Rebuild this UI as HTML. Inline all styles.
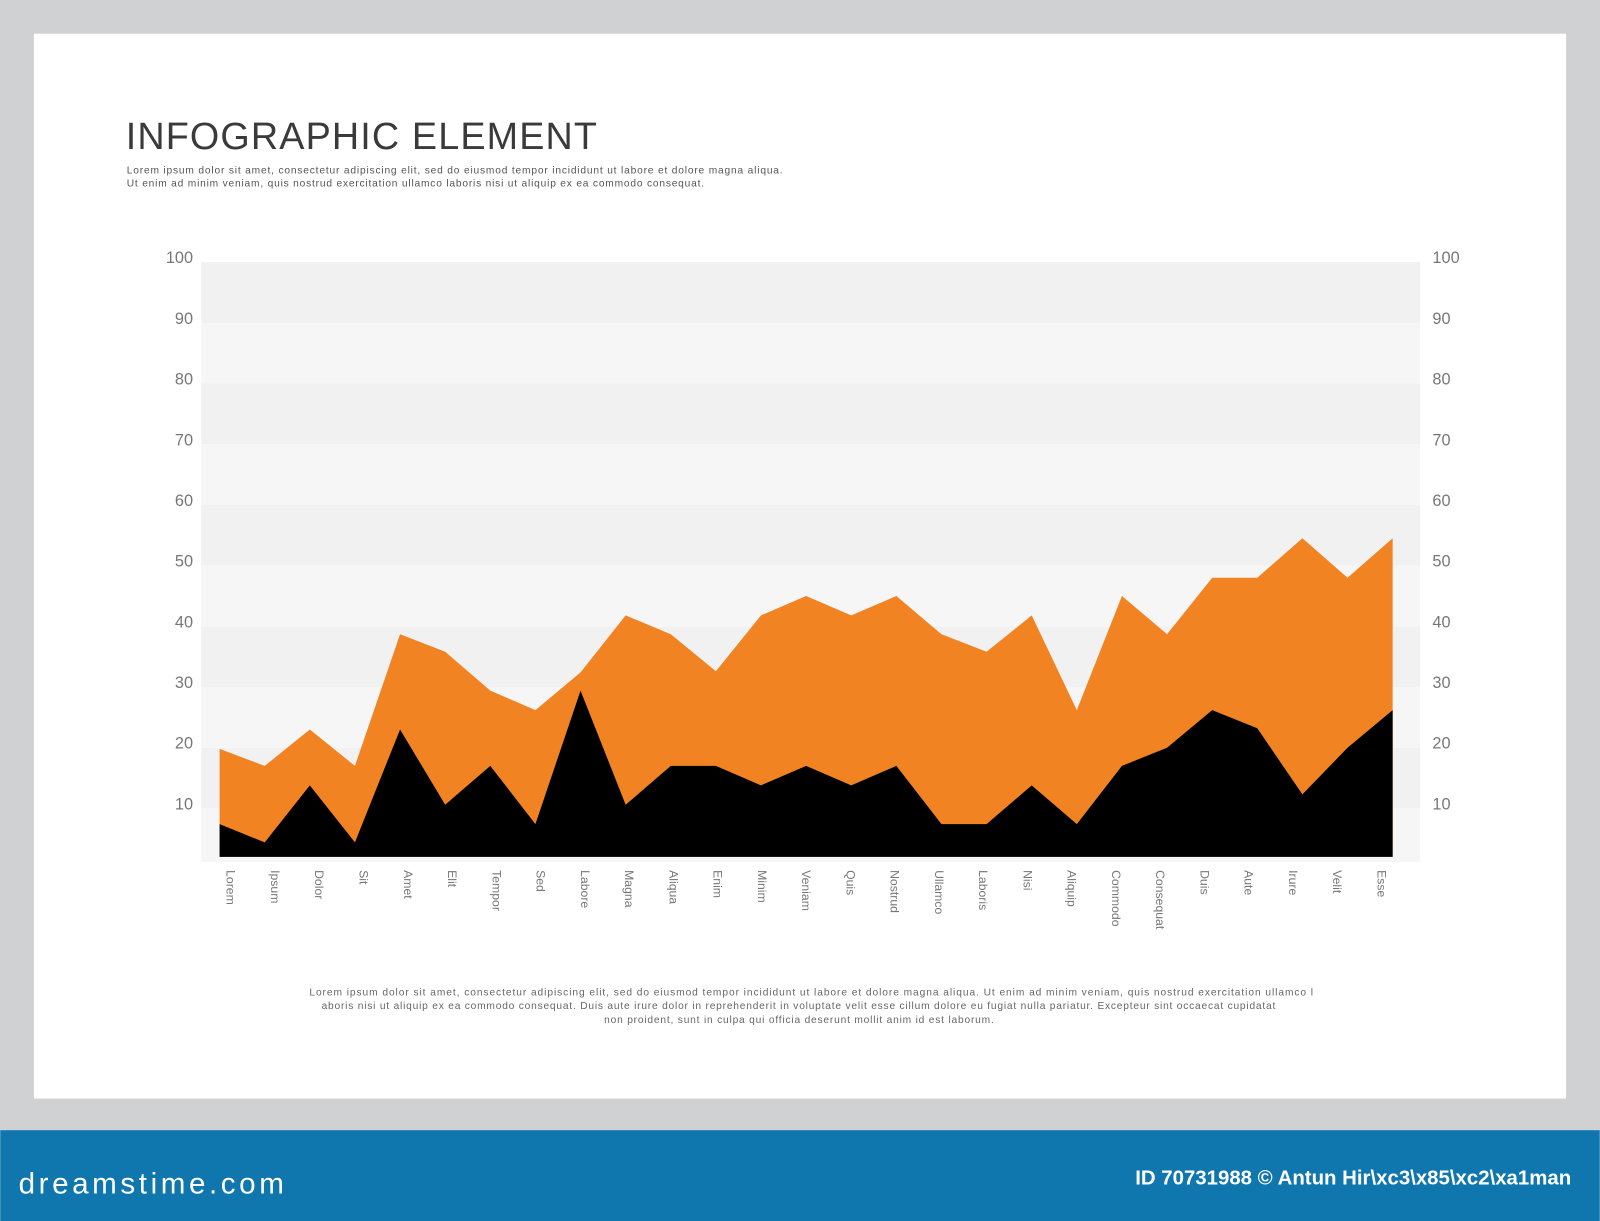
<!DOCTYPE html>
<html><head><meta charset="utf-8"><style>
html,body{margin:0;padding:0;background:#d0d1d3;}
svg{display:block;}
text{font-family:"Liberation Sans",sans-serif;}
</style></head><body>
<svg id="chart" width="1600" height="1221" viewBox="0 0 1568 1197">
<rect x="0" y="0" width="1568" height="1197" fill="#d0d1d3"/>
<rect x="33" y="33" width="1502" height="1044" fill="#ffffff"/>
<rect x="0" y="1108" width="1568" height="89" fill="#0f77ae"/>
<text x="18" y="1170" fill="#fff" font-size="29" textLength="260">dreamstime.com</text>
<text x="1540" y="1161" fill="#fff" font-size="20" font-weight="bold" text-anchor="end">ID 70731988 © Antun Hir\xc3\x85\xc2\xa1man</text>
<text x="123" y="146" fill="#3a3a3a" font-size="37" textLength="462">INFOGRAPHIC ELEMENT</text>
<text x="124" y="170" fill="#555" font-size="10" textLength="643">Lorem ipsum dolor sit amet, consectetur adipiscing elit, sed do eiusmod tempor incididunt ut labore et dolore magna aliqua.</text>
<text x="124" y="183" fill="#555" font-size="10" textLength="566">Ut enim ad minim veniam, quis nostrud exercitation ullamco laboris nisi ut aliquip ex ea commodo consequat.</text>
<g id="bands"></g>
<g id="areas"></g>
<g id="yleft"></g><g id="yright"></g><g id="xlabels"></g>
<g fill="#666" font-size="10">
<text x="303" y="976" textLength="984">Lorem ipsum dolor sit amet, consectetur adipiscing elit, sed do eiusmod tempor incididunt ut labore et dolore magna aliqua. Ut enim ad minim veniam, quis nostrud exercitation ullamco l</text>
<text x="315" y="989" textLength="935">aboris nisi ut aliquip ex ea commodo consequat. Duis aute irure dolor in reprehenderit in voluptate velit esse cillum dolore eu fugiat nulla pariatur. Excepteur sint occaecat cupidatat</text>
<text x="592" y="1003" textLength="382">non proident, sunt in culpa qui officia deserunt mollit anim id est laborum.</text>
</g>
</svg>
<script>
const categories=["Lorem","Ipsum","Dolor","Sit","Amet","Elit","Tempor","Sed","Labore","Magna","Aliqua","Enim","Minim","Veniam","Quis","Nostrud","Ullamco","Laboris","Nisi","Aliquip","Commodo","Consequat","Duis","Aute","Irure","Velit","Esse"];
const orangeValues=[19.8,17,23,17,38.7,35.8,29.4,26.2,32.4,41.8,38.7,32.6,41.8,45,41.8,45,38.7,35.8,41.8,26.2,45,38.7,48,48,54.5,48,54.5];
const blackValues=[7.4,4.4,13.8,4.4,23,10.6,17,7.4,29.4,10.6,17,17,13.8,17,13.8,17,7.4,7.4,13.8,7.4,17,20,26.2,23.2,12.3,20,26.2];
const yTicks=[10,20,30,40,50,60,70,80,90,100];
const NS="http://www.w3.org/2000/svg";
const X0=215,X1=1365,BASE=840,L0=222,L1=1350;
function xs(i){return X0+(X1-X0)*i/(categories.length-1);}
function xl(i){return L0+(L1-L0)*i/(categories.length-1);}
function ys(v){return 852-5.95*v;}
function mk(tag,attrs,parent){const e=document.createElementNS(NS,tag);for(const k in attrs)e.setAttribute(k,attrs[k]);document.getElementById(parent).appendChild(e);return e;}
for(let i=0;i<10;i++){
 const top=ys(100-i*10), bot=i==9?845:ys(90-i*10);
 const r=mk('rect',{x:197,y:top,width:1195,height:bot-top,fill:i%2?'#f6f6f7':'#f1f1f2'},'bands');
 
 
}
function area(vals,color,name){
 let d='M'+xs(0)+','+BASE;
 vals.forEach((v,i)=>{d+=' L'+xs(i)+','+ys(v);});
 d+=' L'+xs(vals.length-1)+','+BASE+' Z';
 const p=mk('path',{d:d,fill:color},'areas');
 
 
}
area(orangeValues,'#f28322','orange-area-series');
area(blackValues,'#000000','black-area-series');
yTicks.forEach(t=>{
 const a=mk('text',{x:189,y:ys(t)+1,'text-anchor':'end','font-size':16,fill:'#777'},'yleft');a.textContent=t;
 
 
 const b=mk('text',{x:1404,y:ys(t)+1,'font-size':16,fill:'#777'},'yright');b.textContent=t;
 
 
});
categories.forEach((c,i)=>{
 const x=xl(i);
 const t=mk('text',{x:x,y:853,'font-size':12,fill:'#777',transform:'rotate(90 '+x+' 853)'},'xlabels');
 t.textContent=c;
 
 
});
</script>
</body></html>
